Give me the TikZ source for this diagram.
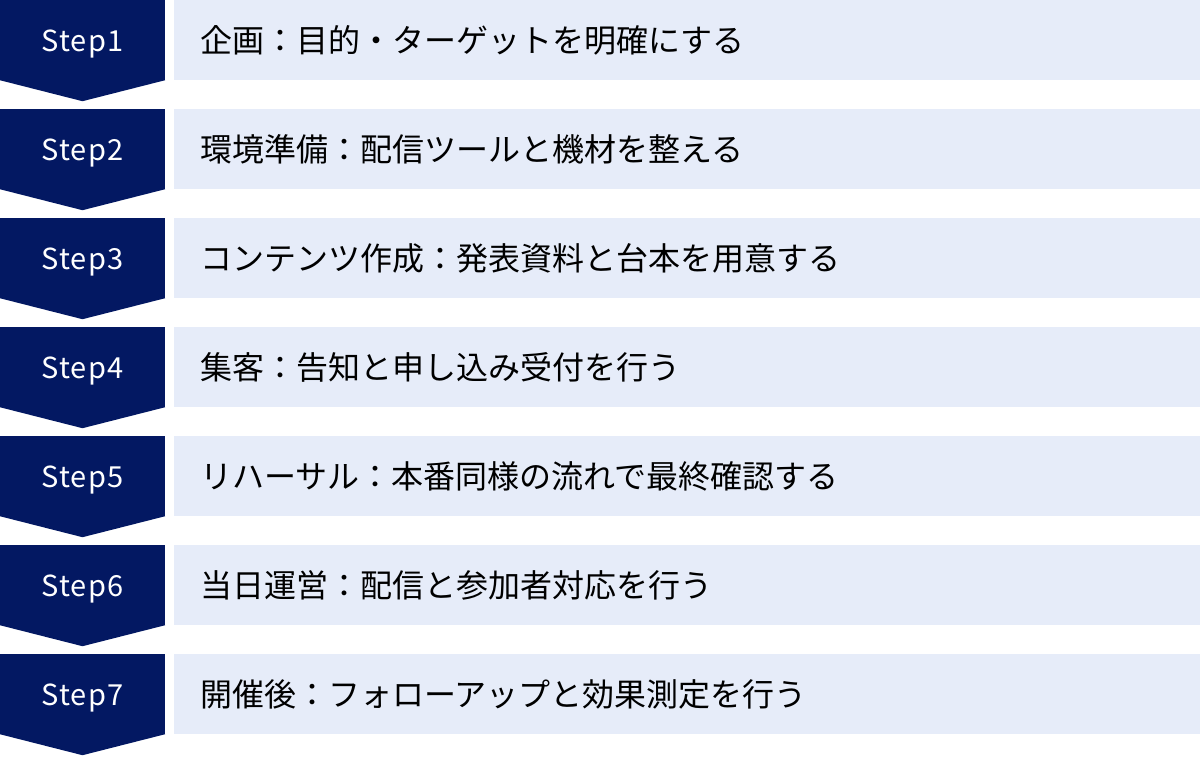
\documentclass[tikz,border=0pt]{standalone}
\usepackage{fontspec}
\setmainfont{Noto Sans CJK JP}
\definecolor{stepblue}{HTML}{031862}
\definecolor{rowblue}{HTML}{E6ECF9}
\begin{document}
\begin{tikzpicture} [x=1pt,y=1pt,mystep/.style={rectangle, fill=stepblue, text=white, minimum width=165pt, minimum height=80pt, inner sep=0pt, text height=23pt, text depth=0pt, font=\fontsize{29}{32}\selectfont\addfontfeatures{LetterSpace=4}},myrow/.style={rectangle, fill=rowblue, anchor=west, minimum height=80pt, text width=974pt, inner xsep=26pt, inner ysep=0pt, align=left, font=\fontsize{32}{36}\selectfont},mytip/.style={fill=stepblue}]
  \useasboundingbox (0,0) rectangle (1200,-756);

  \node[mystep] (s1) at (82.5,-40) {Step1};
  \node[myrow] (r1) at (174,-40) {企画：目的・ターゲットを明確にする};
  \node[mystep] (s2) at (82.5,-149) {Step2};
  \node[myrow] (r2) at (174,-149) {環境準備：配信ツールと機材を整える};
  \node[mystep] (s3) at (82.5,-258) {Step3};
  \node[myrow] (r3) at (174,-258) {コンテンツ作成：発表資料と台本を用意する};
  \node[mystep] (s4) at (82.5,-367) {Step4};
  \node[myrow] (r4) at (174,-367) {集客：告知と申し込み受付を行う};
  \node[mystep] (s5) at (82.5,-476) {Step5};
  \node[myrow] (r5) at (174,-476) {リハーサル：本番同様の流れで最終確認する};
  \node[mystep] (s6) at (82.5,-585) {Step6};
  \node[myrow] (r6) at (174,-585) {当日運営：配信と参加者対応を行う};
  \node[mystep] (s7) at (82.5,-694) {Step7};
  \node[myrow] (r7) at (174,-694) {開催後：フォローアップと効果測定を行う};

    \fill[mytip] (s1.south west) -- (s1.south east) -- ([yshift=-21pt]s1.south) -- cycle;
    \fill[mytip] (s2.south west) -- (s2.south east) -- ([yshift=-21pt]s2.south) -- cycle;
    \fill[mytip] (s3.south west) -- (s3.south east) -- ([yshift=-21pt]s3.south) -- cycle;
    \fill[mytip] (s4.south west) -- (s4.south east) -- ([yshift=-21pt]s4.south) -- cycle;
    \fill[mytip] (s5.south west) -- (s5.south east) -- ([yshift=-21pt]s5.south) -- cycle;
    \fill[mytip] (s6.south west) -- (s6.south east) -- ([yshift=-21pt]s6.south) -- cycle;
    \fill[mytip] (s7.south west) -- (s7.south east) -- ([yshift=-21pt]s7.south) -- cycle;

\end{tikzpicture}
\end{document}
